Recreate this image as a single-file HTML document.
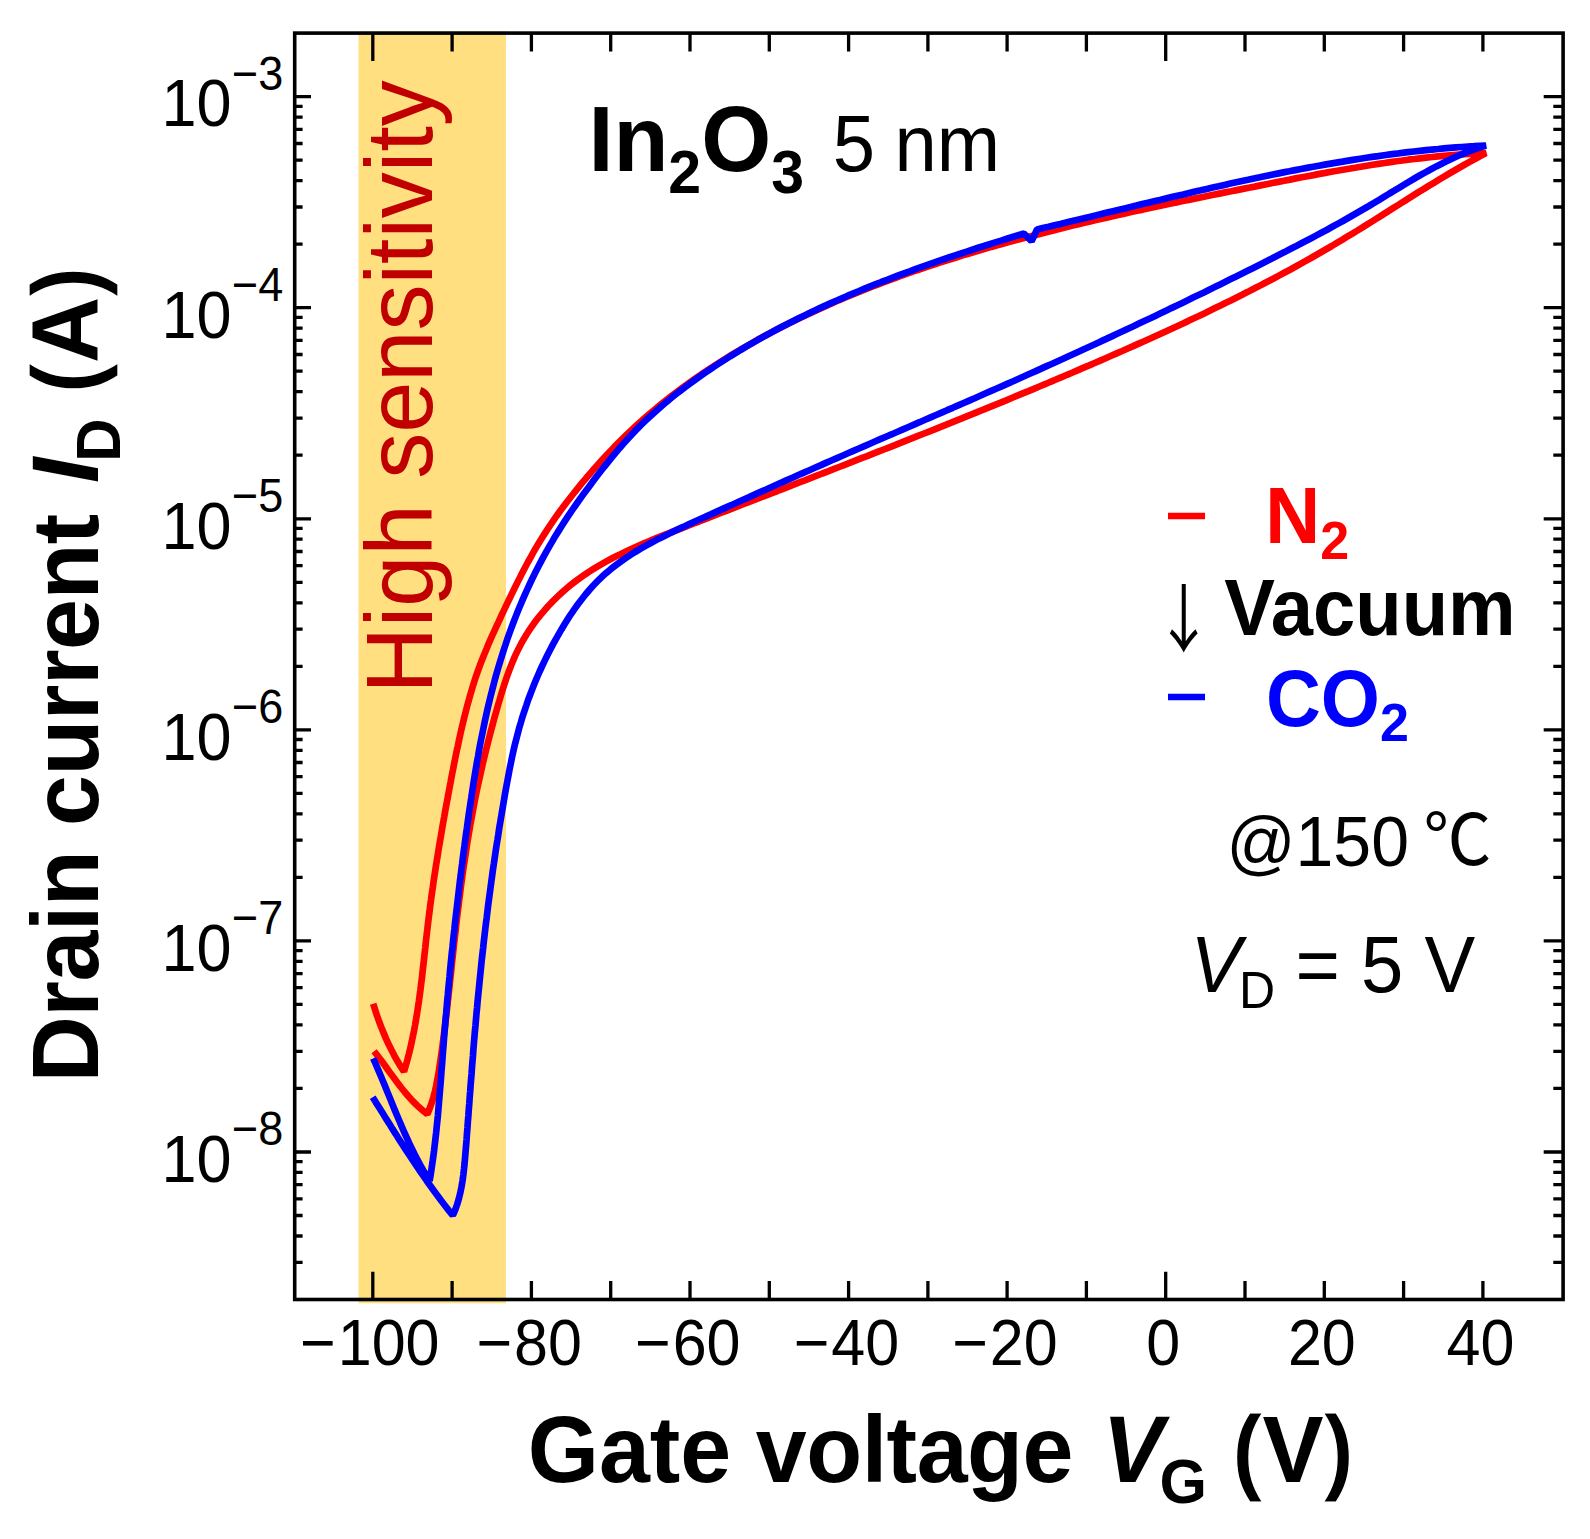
<!DOCTYPE html>
<html lang="en"><head><meta charset="utf-8"><title>In2O3 5 nm transfer curves</title>
<style>html,body{margin:0;padding:0;background:#fff}svg{display:block}text{font-family:"Liberation Sans", Arial, Helvetica, sans-serif}.p{stroke:#fff;stroke-width:1.2px}</style></head><body>
<svg width="1590" height="1539" viewBox="0 0 1590 1539">
<rect x="0" y="0" width="1590" height="1539" fill="#ffffff"/>
<rect x="358.5" y="31.3" width="147.5" height="1272.0" fill="#ffdf80"/>
<text transform="translate(431.9 693.6) rotate(-90) scale(1 1.03)" font-size="92" fill="#c00000">High sensitivity</text>
<path d="M373.2 1003.8 L375.1 1009.7 L377.0 1015.6 L379.1 1021.5 L381.3 1027.3 L383.7 1033.1 L386.1 1038.9 L388.7 1044.5 L391.5 1050.1 L394.3 1055.6 L397.4 1061.1 L400.6 1066.4 L404.0 1071.6 L405.7 1065.8 L407.3 1060.1 L408.8 1054.3 L410.3 1048.4 L411.6 1042.6 L412.8 1036.7 L414.0 1030.9 L415.1 1025.0 L416.1 1019.1 L417.1 1013.1 L418.0 1007.2 L418.9 1001.3 L419.7 995.3 L420.5 989.4 L421.2 983.4 L422.0 977.5 L422.6 971.5 L423.3 965.5 L424.0 959.5 L424.6 953.6 L425.3 947.6 L425.9 941.6 L426.6 935.6 L427.3 929.7 L428.0 923.7 L428.7 917.7 L429.5 911.8 L430.2 905.8 L431.0 899.9 L431.8 893.9 L432.7 888.0 L433.5 882.1 L434.4 876.1 L435.3 870.2 L436.2 864.3 L437.2 858.4 L438.1 852.5 L439.1 846.5 L440.1 840.6 L441.1 834.7 L442.1 828.8 L443.1 822.9 L444.2 817.0 L445.2 811.1 L446.3 805.2 L447.4 799.3 L448.5 793.4 L449.6 787.5 L450.7 781.6 L451.8 775.6 L453.0 769.7 L454.1 763.8 L455.3 757.9 L456.5 752.0 L457.8 746.1 L459.0 740.3 L460.3 734.4 L461.6 728.5 L463.0 722.7 L464.4 716.9 L465.9 711.0 L467.4 705.2 L469.0 699.5 L470.6 693.7 L472.3 688.0 L474.1 682.3 L475.9 676.6 L477.9 670.9 L479.9 665.3 L482.1 659.7 L484.3 654.2 L486.6 648.7 L488.9 643.1 L491.3 637.6 L493.8 632.2 L496.3 626.7 L498.8 621.3 L501.3 615.8 L503.9 610.4 L506.5 604.9 L509.1 599.5 L511.7 594.1 L514.3 588.7 L517.0 583.3 L519.7 578.0 L522.4 572.6 L525.2 567.3 L528.0 562.0 L530.9 556.8 L533.8 551.5 L536.8 546.4 L539.9 541.2 L543.1 536.1 L546.3 531.1 L549.6 526.1 L553.0 521.1 L556.4 516.2 L559.9 511.3 L563.5 506.5 L567.1 501.7 L570.8 497.0 L574.5 492.3 L578.3 487.6 L582.1 482.9 L586.0 478.3 L589.9 473.8 L593.8 469.2 L597.8 464.7 L601.8 460.3 L605.9 455.9 L610.0 451.5 L614.1 447.2 L618.3 442.9 L622.6 438.7 L626.9 434.5 L631.2 430.4 L635.6 426.3 L640.0 422.3 L644.5 418.3 L649.0 414.4 L653.6 410.5 L658.2 406.7 L662.8 402.9 L667.5 399.2 L672.2 395.5 L677.0 391.9 L681.8 388.3 L686.6 384.8 L691.5 381.3 L696.4 377.8 L701.3 374.4 L706.3 371.1 L711.3 367.7 L716.3 364.5 L721.4 361.3 L726.5 358.1 L731.6 354.9 L736.7 351.8 L741.9 348.8 L747.1 345.8 L752.4 342.8 L757.6 339.8 L762.9 336.9 L768.2 334.1 L773.5 331.3 L778.8 328.5 L784.2 325.7 L789.6 323.0 L795.0 320.4 L800.4 317.8 L805.8 315.2 L811.3 312.6 L816.7 310.1 L822.2 307.6 L827.7 305.1 L833.2 302.7 L838.7 300.3 L844.2 298.0 L849.7 295.7 L855.3 293.4 L860.9 291.1 L866.4 288.9 L872.0 286.7 L877.6 284.6 L883.2 282.4 L888.8 280.3 L894.4 278.3 L900.1 276.2 L905.7 274.2 L911.4 272.2 L917.0 270.2 L922.7 268.3 L928.4 266.4 L934.1 264.5 L939.8 262.6 L945.5 260.8 L951.2 259.0 L956.9 257.2 L962.6 255.4 L968.4 253.7 L974.1 252.0 L979.9 250.3 L985.6 248.6 L991.4 246.9 L997.2 245.3 L1002.9 243.7 L1008.7 242.1 L1014.5 240.5 L1020.3 238.9 L1026.1 237.4 L1031.9 235.9 L1037.7 234.4 L1043.5 232.9 L1049.3 231.4 L1055.2 229.9 L1061.0 228.5 L1066.8 227.0 L1072.6 225.6 L1078.5 224.2 L1084.3 222.8 L1090.1 221.4 L1096.0 220.1 L1101.8 218.7 L1107.7 217.4 L1113.5 216.1 L1119.4 214.7 L1125.3 213.4 L1131.1 212.1 L1137.0 210.8 L1142.9 209.6 L1148.7 208.3 L1154.6 207.0 L1160.5 205.8 L1166.3 204.5 L1172.2 203.3 L1178.1 202.1 L1184.0 200.8 L1189.9 199.6 L1195.7 198.4 L1201.6 197.2 L1207.5 196.0 L1213.4 194.8 L1219.3 193.6 L1225.2 192.4 L1231.1 191.3 L1236.9 190.1 L1242.8 188.9 L1248.7 187.7 L1254.6 186.6 L1260.5 185.4 L1266.4 184.2 L1272.3 183.0 L1278.2 181.9 L1284.1 180.7 L1290.0 179.6 L1295.8 178.4 L1301.7 177.3 L1307.6 176.2 L1313.5 175.1 L1319.4 173.9 L1325.3 172.9 L1331.2 171.8 L1337.1 170.7 L1343.0 169.7 L1348.9 168.7 L1354.9 167.7 L1360.8 166.7 L1366.7 165.7 L1372.6 164.8 L1378.5 163.9 L1384.5 163.0 L1390.4 162.1 L1396.3 161.3 L1402.3 160.5 L1408.2 159.7 L1414.2 159.0 L1420.1 158.3 L1426.1 157.6 L1432.1 157.0 L1438.0 156.3 L1444.0 155.8 L1450.0 155.3 L1456.0 154.8 L1462.0 154.3 L1468.0 153.9 L1474.0 153.6 L1480.0 153.3 L1486.0 153.0 L1480.7 155.8 L1475.4 158.7 L1470.1 161.6 L1464.9 164.5 L1459.7 167.5 L1454.5 170.5 L1449.3 173.5 L1444.1 176.6 L1439.0 179.7 L1433.9 182.8 L1428.7 185.9 L1423.6 189.1 L1418.5 192.2 L1413.4 195.4 L1408.3 198.6 L1403.2 201.8 L1398.2 205.0 L1393.1 208.2 L1388.0 211.4 L1382.9 214.6 L1377.8 217.8 L1372.8 221.0 L1367.7 224.1 L1362.6 227.3 L1357.5 230.5 L1352.4 233.6 L1347.2 236.7 L1342.1 239.8 L1336.9 242.9 L1331.8 246.0 L1326.6 249.0 L1321.4 252.0 L1316.2 255.0 L1311.0 258.0 L1305.8 260.9 L1300.5 263.9 L1295.3 266.8 L1290.0 269.7 L1284.7 272.5 L1279.4 275.4 L1274.1 278.2 L1268.8 281.0 L1263.5 283.8 L1258.1 286.6 L1252.8 289.3 L1247.4 292.1 L1242.1 294.8 L1236.7 297.5 L1231.3 300.2 L1225.9 302.8 L1220.5 305.5 L1215.1 308.1 L1209.7 310.8 L1204.3 313.4 L1198.9 316.0 L1193.4 318.5 L1188.0 321.1 L1182.5 323.7 L1177.1 326.2 L1171.6 328.7 L1166.2 331.2 L1160.7 333.7 L1155.2 336.2 L1149.7 338.7 L1144.2 341.2 L1138.7 343.6 L1133.2 346.1 L1127.8 348.5 L1122.2 351.0 L1116.7 353.4 L1111.2 355.8 L1105.7 358.2 L1100.2 360.6 L1094.7 363.0 L1089.2 365.4 L1083.7 367.7 L1078.1 370.1 L1072.6 372.5 L1067.1 374.8 L1061.6 377.2 L1056.0 379.5 L1050.5 381.8 L1045.0 384.2 L1039.4 386.5 L1033.9 388.8 L1028.4 391.1 L1022.8 393.4 L1017.3 395.7 L1011.7 398.0 L1006.2 400.3 L1000.6 402.6 L995.1 404.8 L989.5 407.1 L984.0 409.4 L978.4 411.6 L972.9 413.9 L967.3 416.1 L961.8 418.4 L956.2 420.6 L950.7 422.9 L945.1 425.1 L939.5 427.3 L934.0 429.6 L928.4 431.8 L922.8 434.0 L917.3 436.2 L911.7 438.4 L906.1 440.6 L900.5 442.9 L895.0 445.1 L889.4 447.3 L883.8 449.5 L878.2 451.7 L872.6 453.9 L867.1 456.1 L861.5 458.2 L855.9 460.4 L850.3 462.6 L844.7 464.8 L839.1 467.0 L833.5 469.2 L827.9 471.4 L822.3 473.5 L816.7 475.7 L811.1 477.9 L805.5 480.1 L799.9 482.2 L794.3 484.4 L788.7 486.6 L783.1 488.8 L777.5 491.0 L771.9 493.1 L766.3 495.3 L760.7 497.5 L755.1 499.7 L749.4 501.8 L743.8 504.0 L738.2 506.2 L732.6 508.4 L727.0 510.6 L721.4 512.7 L715.7 514.9 L710.1 517.1 L704.5 519.3 L698.9 521.5 L693.2 523.7 L687.6 525.9 L682.0 528.1 L676.4 530.3 L670.7 532.5 L665.1 534.7 L659.5 536.9 L653.9 539.2 L648.3 541.5 L642.8 543.9 L637.3 546.3 L631.8 548.7 L626.4 551.3 L621.0 553.9 L615.6 556.5 L610.3 559.3 L605.1 562.1 L599.9 565.1 L594.8 568.1 L589.8 571.3 L584.8 574.6 L580.0 578.0 L575.2 581.5 L570.5 585.2 L565.9 589.0 L561.4 593.0 L557.0 597.1 L552.7 601.4 L548.5 605.8 L544.5 610.3 L540.6 614.9 L536.8 619.6 L533.2 624.5 L529.8 629.4 L526.5 634.5 L523.4 639.7 L520.5 644.9 L517.8 650.2 L515.2 655.6 L512.9 661.1 L510.6 666.7 L508.5 672.3 L506.5 677.9 L504.6 683.6 L502.8 689.3 L501.0 695.1 L499.3 700.9 L497.6 706.6 L496.0 712.4 L494.3 718.2 L492.8 724.0 L491.2 729.8 L489.7 735.6 L488.2 741.5 L486.7 747.3 L485.3 753.1 L483.9 759.0 L482.5 764.8 L481.2 770.7 L479.9 776.6 L478.6 782.4 L477.3 788.3 L476.1 794.2 L474.9 800.1 L473.8 806.0 L472.7 811.9 L471.6 817.8 L470.5 823.7 L469.5 829.6 L468.5 835.5 L467.5 841.4 L466.6 847.4 L465.7 853.3 L464.8 859.2 L463.9 865.2 L463.0 871.1 L462.2 877.0 L461.4 883.0 L460.6 888.9 L459.9 894.9 L459.1 900.8 L458.4 906.8 L457.6 912.8 L456.9 918.7 L456.2 924.7 L455.6 930.7 L454.9 936.6 L454.2 942.6 L453.5 948.6 L452.9 954.6 L452.2 960.5 L451.6 966.5 L451.0 972.5 L450.3 978.5 L449.7 984.5 L449.0 990.5 L448.4 996.5 L447.7 1002.4 L447.1 1008.4 L446.4 1014.4 L445.7 1020.4 L445.0 1026.4 L444.2 1032.3 L443.5 1038.3 L442.7 1044.3 L441.9 1050.2 L441.1 1056.1 L440.2 1062.1 L439.3 1068.0 L438.4 1073.9 L437.3 1079.8 L436.2 1085.7 L434.9 1091.5 L433.4 1097.2 L431.7 1102.9 L429.6 1108.6 L427.3 1114.1 L422.3 1110.1 L417.6 1105.9 L413.1 1101.5 L408.8 1096.8 L404.7 1092.0 L400.7 1087.0 L396.9 1081.9 L393.1 1076.8 L389.3 1071.7 L385.6 1066.5 L381.8 1061.3 L378.0 1056.3 L374.1 1051.3" fill="none" stroke="#ff0000" stroke-width="6.7" stroke-linejoin="bevel" stroke-linecap="butt"/>
<path d="M373.2 1058.4 L375.7 1064.0 L378.1 1069.6 L380.5 1075.3 L382.9 1081.0 L385.2 1086.6 L387.5 1092.3 L389.9 1098.0 L392.2 1103.7 L394.5 1109.4 L396.9 1115.1 L399.3 1120.7 L401.7 1126.4 L404.1 1132.0 L406.7 1137.6 L409.2 1143.2 L411.9 1148.7 L414.6 1154.2 L417.4 1159.7 L420.3 1165.1 L423.3 1170.4 L426.4 1175.7 L429.6 1181.0 L430.6 1175.1 L431.5 1169.1 L432.4 1163.1 L433.2 1157.2 L434.0 1151.2 L434.7 1145.2 L435.4 1139.2 L436.1 1133.2 L436.7 1127.2 L437.3 1121.3 L437.9 1115.3 L438.4 1109.2 L438.9 1103.2 L439.4 1097.2 L439.9 1091.2 L440.4 1085.2 L440.9 1079.2 L441.3 1073.2 L441.8 1067.2 L442.3 1061.2 L442.7 1055.2 L443.2 1049.1 L443.7 1043.1 L444.1 1037.1 L444.6 1031.1 L445.1 1025.1 L445.6 1019.1 L446.2 1013.1 L446.7 1007.1 L447.2 1001.1 L447.8 995.1 L448.3 989.1 L448.9 983.1 L449.5 977.1 L450.0 971.1 L450.6 965.1 L451.2 959.1 L451.8 953.1 L452.5 947.2 L453.1 941.2 L453.7 935.2 L454.4 929.2 L455.0 923.2 L455.7 917.2 L456.4 911.2 L457.1 905.3 L457.8 899.3 L458.5 893.3 L459.2 887.3 L459.9 881.3 L460.7 875.3 L461.4 869.4 L462.2 863.4 L462.9 857.4 L463.7 851.4 L464.5 845.5 L465.3 839.5 L466.1 833.5 L467.0 827.5 L467.8 821.5 L468.6 815.6 L469.5 809.6 L470.4 803.6 L471.3 797.7 L472.2 791.7 L473.1 785.7 L474.0 779.8 L475.0 773.8 L476.0 767.9 L477.0 761.9 L478.1 756.0 L479.1 750.0 L480.2 744.1 L481.4 738.2 L482.6 732.3 L483.8 726.4 L485.0 720.5 L486.3 714.6 L487.6 708.7 L489.0 702.9 L490.4 697.0 L491.9 691.2 L493.4 685.3 L494.9 679.5 L496.5 673.7 L498.2 667.9 L499.9 662.2 L501.7 656.4 L503.5 650.7 L505.4 645.0 L507.3 639.2 L509.3 633.6 L511.4 627.9 L513.5 622.3 L515.7 616.6 L517.9 611.0 L520.2 605.5 L522.6 599.9 L525.0 594.4 L527.5 588.9 L530.0 583.5 L532.6 578.0 L535.3 572.6 L538.0 567.2 L540.8 561.9 L543.6 556.6 L546.5 551.3 L549.5 546.1 L552.6 540.9 L555.6 535.7 L558.8 530.6 L562.0 525.5 L565.3 520.4 L568.6 515.4 L572.0 510.4 L575.4 505.5 L578.9 500.5 L582.4 495.6 L586.0 490.7 L589.6 485.9 L593.2 481.1 L596.8 476.3 L600.5 471.5 L604.2 466.8 L608.0 462.1 L611.8 457.4 L615.6 452.8 L619.5 448.2 L623.5 443.6 L627.5 439.2 L631.6 434.8 L635.7 430.4 L639.9 426.1 L644.2 421.9 L648.6 417.8 L653.0 413.7 L657.5 409.7 L662.0 405.7 L666.6 401.8 L671.2 398.0 L675.9 394.2 L680.7 390.5 L685.5 386.9 L690.3 383.3 L695.2 379.7 L700.1 376.2 L705.0 372.8 L710.0 369.4 L715.0 366.0 L720.1 362.7 L725.2 359.5 L730.2 356.3 L735.4 353.1 L740.5 350.0 L745.7 346.9 L750.9 343.9 L756.1 340.9 L761.4 337.9 L766.6 335.0 L771.9 332.1 L777.2 329.3 L782.5 326.5 L787.9 323.7 L793.3 321.0 L798.7 318.3 L804.1 315.7 L809.5 313.1 L814.9 310.5 L820.4 307.9 L825.9 305.4 L831.4 302.9 L836.9 300.5 L842.4 298.1 L847.9 295.7 L853.5 293.3 L859.1 291.0 L864.6 288.7 L870.2 286.4 L875.8 284.2 L881.4 282.0 L887.1 279.8 L892.7 277.6 L898.3 275.5 L904.0 273.4 L909.7 271.3 L915.3 269.2 L921.0 267.2 L926.7 265.2 L932.4 263.2 L938.1 261.2 L943.8 259.2 L949.5 257.3 L955.2 255.4 L961.0 253.5 L966.7 251.6 L972.4 249.7 L978.1 247.8 L983.9 246.0 L989.6 244.2 L995.3 242.4 L1001.1 240.6 L1006.8 238.8 L1012.5 237.0 L1018.3 235.2 L1024.0 233.5 L1031.5 241.3 L1037.0 229.5 L1042.8 228.1 L1048.7 226.7 L1054.5 225.3 L1060.4 223.9 L1066.2 222.5 L1072.1 221.1 L1077.9 219.7 L1083.8 218.3 L1089.6 216.9 L1095.5 215.5 L1101.3 214.1 L1107.2 212.6 L1113.0 211.2 L1118.9 209.8 L1124.7 208.4 L1130.6 207.0 L1136.4 205.6 L1142.3 204.1 L1148.1 202.7 L1154.0 201.3 L1159.9 199.9 L1165.7 198.5 L1171.6 197.1 L1177.5 195.7 L1183.3 194.4 L1189.2 193.0 L1195.1 191.6 L1200.9 190.3 L1206.8 188.9 L1212.7 187.6 L1218.6 186.3 L1224.5 184.9 L1230.3 183.6 L1236.2 182.3 L1242.1 181.0 L1248.0 179.8 L1253.9 178.5 L1259.8 177.3 L1265.7 176.0 L1271.6 174.8 L1277.5 173.6 L1283.4 172.4 L1289.3 171.3 L1295.2 170.1 L1301.1 169.0 L1307.0 167.9 L1313.0 166.8 L1318.9 165.7 L1324.8 164.6 L1330.7 163.6 L1336.6 162.6 L1342.6 161.6 L1348.5 160.6 L1354.5 159.6 L1360.4 158.7 L1366.3 157.8 L1372.3 156.9 L1378.2 156.1 L1384.2 155.2 L1390.2 154.4 L1396.1 153.7 L1402.1 152.9 L1408.0 152.2 L1414.0 151.5 L1420.0 150.8 L1426.0 150.2 L1432.0 149.6 L1438.0 149.0 L1443.9 148.4 L1449.9 147.9 L1455.9 147.4 L1461.9 147.0 L1467.9 146.6 L1474.0 146.2 L1480.0 145.8 L1486.0 145.5 L1480.2 147.3 L1474.5 149.3 L1468.9 151.4 L1463.3 153.6 L1457.8 156.0 L1452.4 158.4 L1447.0 161.0 L1441.6 163.7 L1436.3 166.4 L1431.0 169.2 L1425.8 172.1 L1420.5 175.0 L1415.3 178.0 L1410.1 181.1 L1405.0 184.2 L1399.8 187.3 L1394.7 190.4 L1389.5 193.5 L1384.4 196.6 L1379.2 199.8 L1374.1 202.9 L1368.9 206.0 L1363.7 209.0 L1358.5 212.0 L1353.3 215.0 L1348.1 218.0 L1342.9 221.0 L1337.6 223.9 L1332.3 226.8 L1327.1 229.7 L1321.8 232.5 L1316.5 235.4 L1311.2 238.2 L1305.8 241.0 L1300.5 243.8 L1295.2 246.6 L1289.8 249.3 L1284.5 252.1 L1279.1 254.8 L1273.8 257.5 L1268.4 260.3 L1263.1 263.0 L1257.7 265.7 L1252.3 268.4 L1247.0 271.1 L1241.6 273.8 L1236.2 276.4 L1230.8 279.1 L1225.4 281.8 L1220.1 284.4 L1214.7 287.1 L1209.3 289.7 L1203.9 292.4 L1198.5 295.0 L1193.1 297.6 L1187.7 300.3 L1182.3 302.9 L1176.9 305.5 L1171.4 308.1 L1166.0 310.7 L1160.6 313.3 L1155.2 315.9 L1149.8 318.5 L1144.3 321.0 L1138.9 323.6 L1133.5 326.2 L1128.0 328.7 L1122.6 331.3 L1117.2 333.8 L1111.7 336.4 L1106.3 338.9 L1100.8 341.4 L1095.4 344.0 L1089.9 346.5 L1084.4 349.0 L1079.0 351.5 L1073.5 354.0 L1068.0 356.5 L1062.6 359.0 L1057.1 361.5 L1051.6 364.0 L1046.1 366.4 L1040.7 368.9 L1035.2 371.4 L1029.7 373.8 L1024.2 376.3 L1018.7 378.7 L1013.2 381.2 L1007.7 383.6 L1002.2 386.1 L996.7 388.5 L991.2 390.9 L985.7 393.3 L980.2 395.8 L974.7 398.2 L969.2 400.6 L963.7 403.0 L958.2 405.4 L952.7 407.8 L947.1 410.2 L941.6 412.6 L936.1 415.0 L930.6 417.4 L925.1 419.8 L919.6 422.2 L914.0 424.6 L908.5 427.0 L903.0 429.4 L897.5 431.8 L892.0 434.2 L886.5 436.5 L880.9 438.9 L875.4 441.3 L869.9 443.7 L864.4 446.1 L858.9 448.5 L853.4 450.9 L847.9 453.3 L842.4 455.7 L836.9 458.1 L831.4 460.5 L825.9 462.9 L820.4 465.4 L814.9 467.8 L809.4 470.2 L803.9 472.6 L798.4 475.0 L793.0 477.5 L787.5 479.9 L782.0 482.4 L776.5 484.8 L771.1 487.2 L765.6 489.7 L760.1 492.1 L754.6 494.6 L749.2 497.1 L743.7 499.5 L738.2 502.0 L732.7 504.5 L727.2 506.9 L721.7 509.4 L716.2 511.9 L710.8 514.4 L705.3 516.9 L699.8 519.3 L694.2 521.8 L688.7 524.3 L683.3 526.9 L677.8 529.4 L672.3 532.0 L666.9 534.7 L661.5 537.4 L656.1 540.1 L650.8 543.0 L645.5 545.9 L640.3 548.9 L635.1 552.0 L630.0 555.2 L625.1 558.5 L620.2 562.0 L615.4 565.5 L610.7 569.2 L606.1 573.1 L601.7 577.1 L597.5 581.2 L593.3 585.5 L589.3 590.0 L585.5 594.5 L581.8 599.2 L578.1 604.0 L574.6 608.9 L571.2 613.8 L567.9 618.9 L564.7 624.0 L561.6 629.2 L558.6 634.4 L555.6 639.6 L552.7 644.9 L549.9 650.3 L547.1 655.7 L544.5 661.1 L541.9 666.5 L539.4 672.0 L537.0 677.5 L534.7 683.1 L532.5 688.6 L530.3 694.2 L528.2 699.8 L526.3 705.5 L524.4 711.1 L522.5 716.8 L520.8 722.6 L519.1 728.3 L517.6 734.1 L516.1 739.9 L514.6 745.7 L513.3 751.5 L512.0 757.4 L510.8 763.3 L509.6 769.2 L508.5 775.1 L507.4 781.0 L506.3 786.9 L505.2 792.9 L504.2 798.8 L503.2 804.7 L502.2 810.6 L501.2 816.6 L500.2 822.5 L499.2 828.4 L498.3 834.4 L497.4 840.3 L496.4 846.3 L495.5 852.2 L494.7 858.1 L493.8 864.1 L492.9 870.0 L492.1 876.0 L491.3 881.9 L490.5 887.9 L489.7 893.9 L488.9 899.8 L488.1 905.8 L487.4 911.7 L486.7 917.7 L485.9 923.7 L485.2 929.6 L484.5 935.6 L483.8 941.6 L483.2 947.6 L482.5 953.5 L481.8 959.5 L481.2 965.5 L480.6 971.5 L480.0 977.4 L479.4 983.4 L478.8 989.4 L478.2 995.4 L477.6 1001.4 L477.1 1007.3 L476.5 1013.3 L476.0 1019.3 L475.5 1025.3 L474.9 1031.3 L474.4 1037.3 L473.9 1043.3 L473.4 1049.3 L473.0 1055.3 L472.5 1061.3 L472.0 1067.3 L471.6 1073.2 L471.1 1079.2 L470.6 1085.2 L470.2 1091.2 L469.7 1097.2 L469.3 1103.2 L468.8 1109.2 L468.4 1115.2 L467.9 1121.2 L467.5 1127.2 L467.0 1133.2 L466.6 1139.2 L466.1 1145.2 L465.6 1151.2 L465.1 1157.2 L464.6 1163.2 L464.0 1169.2 L463.3 1175.1 L462.5 1181.0 L461.5 1186.9 L460.3 1192.8 L458.9 1198.5 L457.2 1204.3 L455.2 1209.9 L452.8 1215.5 L448.9 1210.6 L445.1 1205.7 L441.3 1200.8 L437.6 1195.8 L433.9 1190.8 L430.3 1185.8 L426.7 1180.7 L423.2 1175.6 L419.6 1170.5 L416.2 1165.4 L412.7 1160.2 L409.3 1155.0 L405.9 1149.8 L402.5 1144.6 L399.1 1139.4 L395.8 1134.1 L392.5 1128.9 L389.2 1123.6 L385.9 1118.4 L382.6 1113.1 L379.3 1107.8 L376.0 1102.6 L372.7 1097.3" fill="none" stroke="#0000ff" stroke-width="6.7" stroke-linejoin="bevel" stroke-linecap="butt"/>
<path d="M372.8 33.1 v27.8 M372.8 1299.5 v-27.8 M452.1 33.1 v18.5 M452.1 1299.5 v-18.5 M531.4 33.1 v18.5 M531.4 1299.5 v-18.5 M610.7 33.1 v18.5 M610.7 1299.5 v-18.5 M690.0 33.1 v18.5 M690.0 1299.5 v-18.5 M769.3 33.1 v18.5 M769.3 1299.5 v-18.5 M848.6 33.1 v18.5 M848.6 1299.5 v-18.5 M927.9 33.1 v18.5 M927.9 1299.5 v-18.5 M1007.1 33.1 v18.5 M1007.1 1299.5 v-18.5 M1086.4 33.1 v18.5 M1086.4 1299.5 v-18.5 M1165.7 33.1 v27.8 M1165.7 1299.5 v-27.8 M1245.0 33.1 v18.5 M1245.0 1299.5 v-18.5 M1324.3 33.1 v18.5 M1324.3 1299.5 v-18.5 M1403.6 33.1 v18.5 M1403.6 1299.5 v-18.5 M1482.9 33.1 v18.5 M1482.9 1299.5 v-18.5 M294.7 1262.3 h7.9 M1563.1 1262.3 h-9.8 M294.7 1236.0 h7.9 M1563.1 1236.0 h-9.8 M294.7 1215.5 h7.9 M1563.1 1215.5 h-9.8 M294.7 1198.8 h7.9 M1563.1 1198.8 h-9.8 M294.7 1184.7 h7.9 M1563.1 1184.7 h-9.8 M294.7 1172.4 h7.9 M1563.1 1172.4 h-9.8 M294.7 1161.6 h7.9 M1563.1 1161.6 h-9.8 M294.7 1152.0 h16.3 M1563.1 1152.0 h-19.4 M294.7 1088.4 h7.9 M1563.1 1088.4 h-9.8 M294.7 1051.3 h7.9 M1563.1 1051.3 h-9.8 M294.7 1024.9 h7.9 M1563.1 1024.9 h-9.8 M294.7 1004.4 h7.9 M1563.1 1004.4 h-9.8 M294.7 987.7 h7.9 M1563.1 987.7 h-9.8 M294.7 973.6 h7.9 M1563.1 973.6 h-9.8 M294.7 961.4 h7.9 M1563.1 961.4 h-9.8 M294.7 950.6 h7.9 M1563.1 950.6 h-9.8 M294.7 940.9 h16.3 M1563.1 940.9 h-19.4 M294.7 877.4 h7.9 M1563.1 877.4 h-9.8 M294.7 840.2 h7.9 M1563.1 840.2 h-9.8 M294.7 813.8 h7.9 M1563.1 813.8 h-9.8 M294.7 793.4 h7.9 M1563.1 793.4 h-9.8 M294.7 776.7 h7.9 M1563.1 776.7 h-9.8 M294.7 762.5 h7.9 M1563.1 762.5 h-9.8 M294.7 750.3 h7.9 M1563.1 750.3 h-9.8 M294.7 739.5 h7.9 M1563.1 739.5 h-9.8 M294.7 729.8 h16.3 M1563.1 729.8 h-19.4 M294.7 666.3 h7.9 M1563.1 666.3 h-9.8 M294.7 629.1 h7.9 M1563.1 629.1 h-9.8 M294.7 602.8 h7.9 M1563.1 602.8 h-9.8 M294.7 582.3 h7.9 M1563.1 582.3 h-9.8 M294.7 565.6 h7.9 M1563.1 565.6 h-9.8 M294.7 551.5 h7.9 M1563.1 551.5 h-9.8 M294.7 539.2 h7.9 M1563.1 539.2 h-9.8 M294.7 528.4 h7.9 M1563.1 528.4 h-9.8 M294.7 518.8 h16.3 M1563.1 518.8 h-19.4 M294.7 455.2 h7.9 M1563.1 455.2 h-9.8 M294.7 418.1 h7.9 M1563.1 418.1 h-9.8 M294.7 391.7 h7.9 M1563.1 391.7 h-9.8 M294.7 371.2 h7.9 M1563.1 371.2 h-9.8 M294.7 354.5 h7.9 M1563.1 354.5 h-9.8 M294.7 340.4 h7.9 M1563.1 340.4 h-9.8 M294.7 328.2 h7.9 M1563.1 328.2 h-9.8 M294.7 317.4 h7.9 M1563.1 317.4 h-9.8 M294.7 307.7 h16.3 M1563.1 307.7 h-19.4 M294.7 244.2 h7.9 M1563.1 244.2 h-9.8 M294.7 207.0 h7.9 M1563.1 207.0 h-9.8 M294.7 180.6 h7.9 M1563.1 180.6 h-9.8 M294.7 160.2 h7.9 M1563.1 160.2 h-9.8 M294.7 143.5 h7.9 M1563.1 143.5 h-9.8 M294.7 129.3 h7.9 M1563.1 129.3 h-9.8 M294.7 117.1 h7.9 M1563.1 117.1 h-9.8 M294.7 106.3 h7.9 M1563.1 106.3 h-9.8 M294.7 96.6 h16.3 M1563.1 96.6 h-19.4" fill="none" stroke="#000" stroke-width="3.3"/>
<rect x="294.7" y="33.1" width="1268.4" height="1266.4" fill="none" stroke="#000" stroke-width="3.6"/>
<text transform="translate(369.8 1364.7) scale(1 1.07)" font-size="61" text-anchor="middle">−<tspan dx="2">100</tspan></text>
<text transform="translate(529.2 1364.7) scale(1 1.07)" font-size="61" text-anchor="middle">−<tspan dx="2">80</tspan></text>
<text transform="translate(687.8 1364.7) scale(1 1.07)" font-size="61" text-anchor="middle">−<tspan dx="2">60</tspan></text>
<text transform="translate(846.4 1364.7) scale(1 1.07)" font-size="61" text-anchor="middle">−<tspan dx="2">40</tspan></text>
<text transform="translate(1004.9 1364.7) scale(1 1.07)" font-size="61" text-anchor="middle">−<tspan dx="2">20</tspan></text>
<text transform="translate(1163.2 1364.7) scale(1 1.07)" font-size="61" text-anchor="middle">0</text>
<text transform="translate(1321.8 1364.7) scale(1 1.07)" font-size="61" text-anchor="middle">20</text>
<text transform="translate(1480.4 1364.7) scale(1 1.07)" font-size="61" text-anchor="middle">40</text>
<text transform="translate(161.5 1181.8) scale(1 1.06)" font-size="63">10<tspan x="70.5" font-size="45" dy="-34.3">−8</tspan></text>
<text transform="translate(161.5 970.7) scale(1 1.06)" font-size="63">10<tspan x="70.5" font-size="45" dy="-34.3">−7</tspan></text>
<text transform="translate(161.5 759.6) scale(1 1.06)" font-size="63">10<tspan x="70.5" font-size="45" dy="-34.3">−6</tspan></text>
<text transform="translate(161.5 548.6) scale(1 1.06)" font-size="63">10<tspan x="70.5" font-size="45" dy="-34.3">−5</tspan></text>
<text transform="translate(161.5 337.5) scale(1 1.06)" font-size="63">10<tspan x="70.5" font-size="45" dy="-34.3">−4</tspan></text>
<text transform="translate(161.5 126.4) scale(1 1.06)" font-size="63">10<tspan x="70.5" font-size="45" dy="-34.3">−3</tspan></text>
<text transform="translate(0 1481.7) scale(1 1.04)" y="0" font-size="91.5" font-weight="bold"><tspan x="527.8">Gate </tspan><tspan x="755.8" letter-spacing="-0.45">voltage </tspan><tspan x="1102.4" font-style="italic">V</tspan><tspan x="1159.6" font-size="61" dy="20.7">G </tspan><tspan x="1232" dy="-20.7" class="p">(</tspan><tspan>V</tspan><tspan class="p">)</tspan></text>
<text transform="translate(98 0) rotate(-90) scale(1 1.04)" y="0" font-size="91.5" font-weight="bold"><tspan x="-1082.2" letter-spacing="-0.5">Drain current </tspan><tspan x="-483.0" font-style="italic">I</tspan><tspan x="-461.8" font-size="60" dy="20.7">D </tspan><tspan x="-393.5" dy="-20.7" class="p">(</tspan><tspan>A</tspan><tspan class="p">)</tspan></text>
<text transform="translate(0 170.6) scale(1 1.04)" x="588.4" y="0" font-size="90" font-weight="bold">In<tspan font-size="59" dy="21.2">2</tspan><tspan dy="-21.2">O</tspan><tspan font-size="59" dy="21.2">3</tspan></text>
<text transform="translate(0 170.8) scale(1 1.04)" x="832.7" y="0" font-size="76" word-spacing="-1.5">5 nm</text>
<path d="M1168 516h37" stroke="#ff0000" stroke-width="6.4" fill="none"/>
<text transform="translate(0 543.2) scale(1 1.04)" x="1265.3" y="0" font-size="76" font-weight="bold" fill="#ff0000">N<tspan font-size="52" dy="15.4">2</tspan></text>
<text transform="translate(1154.1 645.9) scale(0.875 1.09)" font-size="68" style='font-family:"Noto Sans CJK JP",sans-serif'>↓</text>
<text transform="translate(0 635) scale(1 1.04)" x="1224.3" y="0" font-size="76" font-weight="bold">Vacuum</text>
<path d="M1168 697h37" stroke="#0000ff" stroke-width="6.4" fill="none"/>
<text transform="translate(0 726) scale(1 1.04)" x="1266" y="0" font-size="76" font-weight="bold" fill="#0000ff">CO<tspan font-size="52" dy="14.0">2</tspan></text>
<text transform="translate(0 866.2) scale(1 1.04)" x="1226.5" y="0" font-size="68" style='font-family:"Liberation Sans", "Noto Sans CJK JP", sans-serif'>@150 <tspan x="1423.5" dy="-1.5">℃</tspan></text>
<text transform="translate(0 992) scale(1 1.04)" y="0" font-size="76"><tspan x="1190.5" font-style="italic">V</tspan><tspan x="1239" font-size="50" dy="15.4">D</tspan><tspan x="1274.5" dy="-15.4"> = 5 V</tspan></text>
</svg></body></html>
